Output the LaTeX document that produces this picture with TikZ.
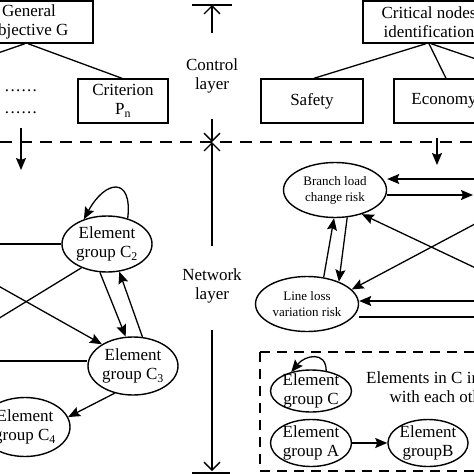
\documentclass[tikz,border=0pt]{standalone}
\usepackage{fontspec}
\setmainfont{Liberation Serif}
\usetikzlibrary{arrows.meta,shapes.geometric}
\newcommand{\sixdots}{.\kern1.3pt.\kern1.3pt.\kern1.3pt.\kern1.3pt.\kern1.3pt.}
\begin{document}
\begin{tikzpicture}[x=1pt,y=-1pt,
  box/.style={draw,line width=1.4pt,rectangle,inner sep=0pt,align=center,font=\fontsize{17}{19}\selectfont},
  el/.style={draw,line width=1.4pt,ellipse,inner sep=0pt,align=center,font=\fontsize{17}{19}\selectfont},
  elr/.style={el,font=\fontsize{13}{16}\selectfont},
  elsm/.style={el,inner ysep=-4pt},
  conn/.style={line width=1.3pt},
  arr/.style={conn,-{Stealth[length=12pt,width=10pt,inset=2pt]}},
  axarr/.style={line width=1.3pt,-{Straight Barb[length=8pt,width=16pt]}},
  sep/.style={line width=1.4pt,dash pattern=on 12pt off 8pt},
  dbox/.style={line width=1.4pt,dash pattern=on 10pt off 7pt},
  lbl/.style={align=center,inner sep=0pt,font=\fontsize{17}{19}\selectfont}]
\useasboundingbox (0,0) rectangle (474,474);
\clip (0,0) rectangle (474,474);

% control layer boxes
\node[box,minimum width=128pt,minimum height=42pt] (G) at (29,22) {General\\objective G};
\node[box,minimum width=90pt,minimum height=44pt] (Pn) at (123,101) {Criterion\\P\textsubscript{n}};
\node[lbl] (d1) at (21,91) {\sixdots};
\node[lbl] (d2) at (21,113) {\sixdots};
\node[box,minimum width=132pt,minimum height=42pt] (CN) at (429,22) {Critical nodes\\identification};
\node[box,minimum width=102pt,minimum height=44pt] (S) at (312,101) {Safety};
\node[box,minimum width=100pt,minimum height=44pt] (E) at (444,101) {Economy};

\coordinate (P1) at (-40,66);
\coordinate (P3) at (520,74);
\draw[conn] ([xshift=-4pt]G.south) -- (P1);
\draw[conn] ([xshift=-1pt]G.south) -- ([xshift=-1pt]Pn.north);
\draw[conn] ([xshift=-3pt]CN.south) -- ([xshift=2pt]S.north);
\draw[conn] (CN.south) -- ([xshift=2pt]E.north);
\draw[conn] ([xshift=2pt]CN.south) -- (P3);

% separator
\coordinate (SL) at (0,142);
\coordinate (SR) at (474,142);
\draw[sep] (SL) -- (SR);

\coordinate (a1s) at (21,128);
\coordinate (a1e) at (21,170);
\draw[arr] (a1s) -- (a1e);
\coordinate (a2s) at (437,138);
\coordinate (a2e) at (437,165);
\draw[arr] (a2s) -- (a2e);

% axis
\coordinate (T1) at (192,5);
\coordinate (T2) at (232,5);
\draw[line width=1.4pt] (T1) -- (T2);
\coordinate (Ta) at (212,33);
\coordinate (Tb) at (212,5);
\draw[axarr] (Ta) -- (Tb);
\node[lbl] (CL) at (212,76) {Control\\layer};
\coordinate (Xa) at (212,119);
\coordinate (X) at (212,142);
\coordinate (Xb) at (212,246);
\draw[axarr] (Xa) -- (X);
\draw[axarr] (Xb) -- (X);
\node[lbl] (NL) at (212,286) {Network\\layer};
\coordinate (Ba) at (212,330);
\coordinate (Bb) at (212,471);
\draw[axarr] (Ba) -- (Bb);
\coordinate (B1) at (192,473);
\coordinate (B2) at (230,473);
\draw[line width=3pt] (B1) -- (B2);

% left network
\node[el,minimum width=90pt,minimum height=56pt] (C2) at (107,244) {Element\\group C\textsubscript{2}};
\node[el,minimum width=90pt,minimum height=58pt] (C3) at (133,366) {Element\\group C\textsubscript{3}};
\node[el,minimum width=90pt,minimum height=59pt] (C4) at (25,427) {Element\\group C\textsubscript{4}};

\draw[arr] (C2.51) .. controls +(5,-43) and +(21,-39) .. (C2.133);
\coordinate (L1) at (-10,244);
\draw[conn] (L1) -- (C2.west);
\coordinate (L2) at (-30,336);
\draw[conn] (C2.223) -- (L2);
\coordinate (L3) at (-30,270);
\draw[arr] (L3) -- (C3.145);
\draw[arr] (C2.256) -- (C3.104);
\draw[arr] (C3.72) -- (C2.294);
\coordinate (L4) at (-10,361);
\draw[conn] (L4) -- (L4 -| C3.west);
\draw[arr] (C3.236) -- (C4.13);

% right network
\node[elr,minimum width=103pt,minimum height=55pt] (Br) at (335,190) {Branch load\\change risk};
\node[elr,minimum width=103pt,minimum height=55pt] (LL) at (307,304) {Line loss\\variation risk};

\coordinate (R1) at (490,179);
\draw[arr] (R1) -- (R1 -| Br.east);
\coordinate (R2) at (473,195);
\draw[arr] (R2 -| Br.east) -- (R2);
\coordinate (R3) at (520,289);
\draw[arr] (R3) -- (Br.-42);
\coordinate (R4) at (520,200);
\draw[arr] (R4) -- (LL.18);
\draw[arr] (LL.58) -- (Br.268);
\draw[arr] (Br.-66) -- (LL.35);
\coordinate (R5) at (490,301);
\draw[arr] (R5) -- (R5 -| LL.east);
\coordinate (R6) at (490,317);
\draw[conn] (R6 -| LL.east) -- (R6);

% legend box
\coordinate (DB1) at (260,352);
\coordinate (DB2) at (520,471);
\draw[dbox] (DB1) rectangle (DB2);
\node[elsm,minimum width=81pt,minimum height=42pt] (Ce) at (311,391) {Element\\group C};
\node[elsm,minimum width=81pt,minimum height=47pt] (A) at (311,443) {Element\\group A};
\node[elsm,minimum width=78pt,minimum height=47pt] (B) at (428,443) {Element\\groupB};
\draw[arr] (Ce.53) .. controls +(0,-20) and +(14,-17) .. (Ce.136);
\draw[arr] (A.east) -- (B.west);
\node[lbl] (note) at (442,387) {Elements in C interact\\with each other};
\end{tikzpicture}
\end{document}
